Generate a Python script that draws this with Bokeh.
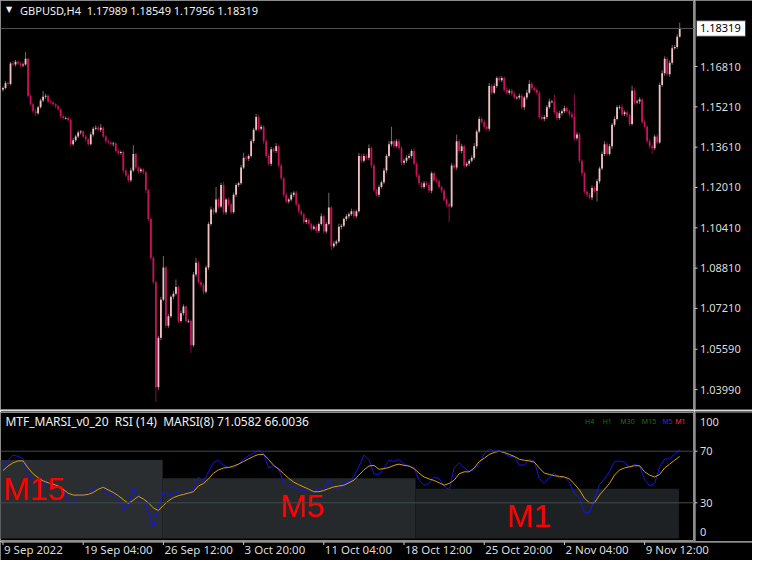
from bokeh.plotting import figure
from bokeh.layouts import column, row
from bokeh.models import Range1d, Label, ColumnDataSource, Span
from bokeh.core.properties import value
from bokeh.embed import file_html
from bokeh.resources import INLINE

# ---------------- data (GBPUSD H4) ----------------
first_open = 1.1590
close = [
    1.1596, 1.1615, 1.1612, 1.1693, 1.1689, 1.1700, 1.1693, 1.1685, 1.1689, 1.1712,
    1.1565, 1.1531, 1.1504, 1.1496, 1.1519, 1.1546, 1.1561, 1.1565, 1.1542, 1.1538,
    1.1531, 1.1523, 1.1511, 1.1484, 1.1477, 1.1477, 1.1469, 1.1373, 1.1388, 1.1403,
    1.1419, 1.1423, 1.1403, 1.1392, 1.1373, 1.1411, 1.1434, 1.1438, 1.1430, 1.1438,
    1.1403, 1.1384, 1.1380, 1.1373, 1.1376, 1.1346, 1.1338, 1.1342, 1.1268, 1.1249,
    1.1230, 1.1268, 1.1334, 1.1280, 1.1265, 1.1272, 1.1261, 1.1191, 1.1076, 1.0922,
    1.0825, 1.0409, 1.0605, 1.0756, 1.0883, 1.0652, 1.0690, 1.0767, 1.0779, 1.0806,
    1.0671, 1.0702, 1.0729, 1.0671, 1.0671, 1.0575, 1.0856, 1.0902, 1.0825, 1.0814,
    1.0787, 1.0883, 1.1056, 1.1114, 1.1103, 1.1153, 1.1126, 1.1211, 1.1103, 1.1153,
    1.1134, 1.1103, 1.1172, 1.1211, 1.1218, 1.1280, 1.1319, 1.1315, 1.1326, 1.1384,
    1.1430, 1.1481, 1.1434, 1.1442, 1.1384, 1.1326, 1.1295, 1.1353, 1.1346, 1.1365,
    1.1288, 1.1238, 1.1172, 1.1145, 1.1153, 1.1172, 1.1180, 1.1134, 1.1107, 1.1095,
    1.1064, 1.1072, 1.1056, 1.1037, 1.1045, 1.1029, 1.1056, 1.1087, 1.1026, 1.1056,
    1.1122, 1.0968, 1.0979, 1.0987, 1.1045, 1.1049, 1.1076, 1.1087, 1.1095, 1.1107,
    1.1087, 1.1107, 1.1326, 1.1307, 1.1326, 1.1319, 1.1357, 1.1288, 1.1191, 1.1172,
    1.1203, 1.1222, 1.1268, 1.1326, 1.1373, 1.1384, 1.1365, 1.1384, 1.1357, 1.1299,
    1.1307, 1.1319, 1.1326, 1.1346, 1.1295, 1.1249, 1.1218, 1.1203, 1.1218, 1.1211,
    1.1188, 1.1257, 1.1230, 1.1226, 1.1203, 1.1188, 1.1153, 1.1134, 1.1126, 1.1288,
    1.1280, 1.1384, 1.1346, 1.1365, 1.1288, 1.1295, 1.1307, 1.1319, 1.1365, 1.1423,
    1.1473, 1.1461, 1.1442, 1.1434, 1.1604, 1.1577, 1.1604, 1.1635, 1.1627, 1.1635,
    1.1588, 1.1577, 1.1585, 1.1573, 1.1558, 1.1558, 1.1565, 1.1519, 1.1558, 1.1577,
    1.1612, 1.1596, 1.1588, 1.1577, 1.1481, 1.1473, 1.1481, 1.1519, 1.1542, 1.1542,
    1.1500, 1.1477, 1.1496, 1.1504, 1.1515, 1.1504, 1.1492, 1.1481, 1.1396, 1.1411,
    1.1307, 1.1257, 1.1184, 1.1172, 1.1161, 1.1199, 1.1188, 1.1226, 1.1276, 1.1334,
    1.1373, 1.1334, 1.1365, 1.1450, 1.1473, 1.1519, 1.1519, 1.1492, 1.1500, 1.1488,
    1.1453, 1.1585, 1.1538, 1.1542, 1.1550, 1.1461, 1.1442, 1.1384, 1.1365, 1.1357,
    1.1403, 1.1380, 1.1608, 1.1654, 1.1712, 1.1650, 1.1696, 1.1754, 1.1758, 1.17989, 1.18319,
]
wick_hi_pips = [
    6, 8, 5, 6, 9, 7, 5, 6, 8, 27, 4, 6, 5, 8, 6, 7, 23, 8, 5, 6,
    7, 5, 6, 4, 8, 6, 5, 6, 9, 7, 8, 6, 5, 7, 4, 9, 8, 10, 7, 15,
    5, 6, 8, 4, 7, 5, 9, 6, 5, 8, 6, 12, 35, 5, 7, 8, 6, 5, 4, 6,
    5, 6, 8, 10, 46, 7, 9, 6, 12, 30, 6, 10, 8, 5, 7, 6, 10, 20, 8, 6,
    7, 9, 8, 10, 6, 50, 7, 9, 12, 6, 8, 5, 9, 7, 6, 10, 20, 8, 7, 9,
    8, 12, 9, 7, 6, 8, 10, 9, 7, 12, 6, 8, 5, 9, 7, 10, 6, 8, 5, 7,
    6, 9, 7, 5, 8, 10, 7, 12, 6, 8, 58, 5, 9, 7, 12, 8, 6, 9, 7, 10,
    8, 6, 12, 9, 10, 7, 15, 6, 8, 5, 9, 7, 10, 8, 12, 58, 6, 9, 10, 7,
    8, 10, 9, 7, 12, 6, 8, 5, 9, 7, 10, 8, 6, 9, 7, 5, 8, 6, 7, 10,
    8, 27, 9, 10, 6, 8, 7, 9, 12, 8, 10, 7, 9, 6, 12, 8, 10, 7, 9, 8,
    6, 9, 7, 8, 10, 6, 9, 8, 7, 12, 15, 8, 6, 9, 7, 10, 8, 9, 12, 7,
    27, 8, 9, 7, 10, 8, 6, 9, 90, 10, 8, 7, 6, 9, 8, 10, 7, 9, 8, 10,
    12, 8, 9, 7, 10, 8, 9, 12, 7, 8, 6, 20, 10, 8, 9, 7, 8, 6, 9, 7,
    8, 10, 9, 12, 10, 8, 9, 12, 8, 10, 23,
]
wick_lo_pips = [
    8, 5, 7, 6, 5, 8, 6, 9, 7, 5, 8, 6, 9, 12, 7, 5, 6, 8, 7, 5,
    6, 8, 5, 9, 7, 6, 8, 10, 6, 7, 5, 8, 6, 9, 7, 5, 8, 6, 7, 9,
    6, 8, 7, 5, 9, 6, 8, 7, 10, 6, 9, 8, 5, 7, 10, 6, 8, 12, 10, 9,
    8, 59, 12, 10, 6, 9, 8, 7, 10, 6, 8, 7, 9, 6, 8, 30, 7, 9, 6, 8,
    10, 7, 9, 8, 10, 6, 8, 7, 9, 10, 7, 8, 6, 9, 8, 7, 6, 8, 9, 7,
    8, 6, 9, 7, 10, 8, 7, 9, 6, 8, 7, 9, 10, 6, 8, 7, 9, 8, 10, 7,
    9, 8, 7, 10, 6, 9, 8, 7, 10, 8, 6, 15, 8, 9, 7, 10, 6, 8, 9, 7,
    10, 8, 6, 9, 7, 8, 10, 9, 8, 7, 9, 6, 8, 10, 7, 9, 8, 6, 7, 10,
    8, 9, 7, 10, 6, 8, 9, 7, 8, 6, 9, 10, 7, 8, 6, 9, 8, 10, 62, 7,
    8, 9, 7, 10, 8, 6, 9, 7, 8, 10, 6, 8, 9, 7, 10, 8, 6, 9, 7, 8,
    9, 7, 8, 10, 6, 9, 8, 7, 10, 8, 6, 9, 7, 8, 10, 7, 9, 8, 6, 7,
    8, 10, 7, 9, 8, 6, 10, 7, 9, 8, 10, 12, 8, 9, 7, 10, 8, 42, 9, 7,
    8, 9, 7, 10, 8, 6, 9, 8, 7, 10, 9, 6, 8, 7, 10, 9, 8, 7, 10, 23,
    8, 9, 6, 8, 10, 7, 9, 8, 6, 7, 3,
]
# RSI(14) and its MA(8), read every second bar
rsi14 = [
    57, 63, 67, 66, 64, 52, 45, 47, 46, 43.5,
    42.3, 42, 39.5, 31.5, 29, 36, 36, 37, 42, 42,
    40, 37, 36, 33, 25, 28, 42, 34, 30, 23,
    11, 27, 39, 36, 37, 38.6, 38.6, 38.6, 40, 50,
    46, 54, 61.5, 63, 59, 57.4, 57, 60, 63.7, 66.7,
    68.5, 71, 68, 57, 58.7, 56.5, 45, 42.3, 42, 40,
    39.8, 38.6, 38.6, 41, 40, 48.6, 42, 40, 45.5, 46,
    50.5, 58, 67, 63.5, 52.4, 52, 57, 63, 62, 63.5,
    60, 58.5, 57, 47.5, 43.6, 45, 50, 48.5, 43, 40,
    57, 61.2, 57, 54.5, 55.5, 60, 68, 71.5, 70, 70.5,
    68.5, 66, 66, 59, 59.5, 63.7, 62, 48.6, 45, 50,
    53, 49, 50, 46, 37, 34, 22.2, 22.2, 33, 44,
    48.5, 54.5, 62, 62.5, 61.5, 57, 60, 58.5, 48, 43,
    45, 58, 64, 64, 68, 71.06,
]
marsi8 = [
    55, 58.5, 61, 62.5, 62.5, 57, 52.5, 49.5, 47, 45.5,
    44.5, 43, 40.5, 37.5, 36, 36, 36, 36.5, 38, 40.5,
    42, 40, 38, 35.5, 32.5, 29.5, 32, 35, 33, 30,
    26, 24, 28, 31.5, 34, 35.5, 36.5, 37.5, 38.6, 43,
    45, 48.5, 53, 55.5, 57, 57.4, 58.5, 60, 62, 64,
    66, 67.5, 67.5, 63.5, 59, 56, 52.5, 49, 46, 44,
    42.3, 40.5, 38.6, 38.6, 39.5, 41, 42.3, 43, 43.6, 45.5,
    47.5, 51.5, 55.5, 58.5, 59, 56, 56.5, 57.4, 59, 60,
    59, 58.5, 56.5, 53, 50, 48.5, 47.3, 45.5, 43.6, 45,
    47.5, 52.5, 54, 54, 57, 62, 64.5, 67.5, 69, 70,
    69, 67.5, 66, 63.7, 63, 62.5, 61.5, 57, 53, 52,
    51, 50.5, 50, 48.5, 44.5, 40, 33.5, 30, 30, 36,
    40.5, 45, 51.5, 55.5, 57, 58, 58.7, 58.7, 54, 51.5,
    50, 52, 57, 60, 63, 66.0,
]
price_ticks = [1.03990, 1.05590, 1.07210, 1.08810, 1.10410, 1.12010, 1.13610, 1.15210, 1.16810]
bid = 1.18319
title_text = "GBPUSD,H4\u00a0\u00a01.17989 1.18549 1.17956 1.18319"
time_tick_bars = [0, 32, 64, 96, 128, 160, 192, 224, 256]
time_tick_labels = ["9 Sep 2022", "19 Sep 04:00", "26 Sep 12:00", "3 Oct 20:00", "11 Oct 04:00",
                    "18 Oct 12:00", "25 Oct 20:00", "2 Nov 04:00", "9 Nov 12:00"]
rsi_levels = [70, 30]
rsi_label_pos = [93, 70, 30, 7]
rsi_label_text = ["100", "70", "30", "0"]
box_names = ["M15", "M5", "M1"]
box_left = [-1.5, 63.7, 164.6]
box_right = [63.7, 164.6, 269.7]
box_top = [63.2, 49.0, 40.8]
box_bottom = [2.3, 2.3, 2.3]
sub_header = "MTF_MARSI_v0_20\u00a0\u00a0RSI (14)\u00a0\u00a0MARSI(8) 71.0582 66.0036"
tf_names = ["H4", "H1", "M30", "M15"]

# ---------------- layout constants ----------------
W = 752
AX_R = 58
FW = W - AX_R          # frame width of the chart windows
H1 = 410               # main window (frame 409 + 1px separator)
H2 = 131               # RSI window (2px separator + frame 129)
H3 = 19                # time scale strip
SX, SY = 752 / 768, 560 / 576
FONT = "Noto Sans"
TXT = "#dcdcdc"
AXC = "#c8c8c8"

n = len(close)
opens = [first_open] + close[:-1]
pip = 0.0001
xs, tops, bots, his, los, bcol, wcol = [], [], [], [], [], [], []
for i in range(n):
    o, c = opens[i], close[i]
    t, b = max(o, c), min(o, c)
    if t - b < 0.0003:
        b = t - 0.0003
    xs.append(i)
    tops.append(t)
    bots.append(b)
    his.append(max(o, c) + wick_hi_pips[i] * pip)
    los.append(min(o, c) - wick_lo_pips[i] * pip)
    up = c >= o
    bcol.append("#f3c3c3" if up else "#c8125a")
    wcol.append("#776868" if up else "#8a0e42")
csrc = ColumnDataSource(dict(x=xs, top=tops, bottom=bots, hi=his, lo=los, bc=bcol, wc=wcol))

x_range = Range1d(-1.0, 275.9)
dpp = (x_range.end - x_range.start) / FW
y1 = Range1d(1.0320, 1.1943)
y2 = Range1d(0, 100)


def base_fig(width, height, xr, yr, top=0, bottom=0, border="black"):
    f = figure(width=width, height=height, x_range=xr, y_range=yr, output_backend="svg",
               toolbar_location=None, x_axis_location=None, y_axis_location=None,
               background_fill_color="black", border_fill_color=border,
               min_border_left=0, min_border_right=0, min_border_top=top, min_border_bottom=bottom)
    f.grid.visible = False
    f.outline_line_color = None
    return f


# ---------------- main price window ----------------
p1 = base_fig(FW, H1, x_range, y1, bottom=1, border="#6c6c6c")
p1.outline_line_color = "#8a8a8a"
p1.add_layout(Span(location=bid, dimension="width", line_color="#505050", line_width=1))
p1.segment(x0="x", y0="lo", x1="x", y1="hi", color="wc", line_width=1, source=csrc)
p1.vbar(x="x", top="top", bottom="bottom", width=0.72, fill_color="bc", line_color=None, source=csrc)
p1.add_layout(Label(x=19.6, y=(H1 - 1) - 10 * SY, x_units="screen", y_units="screen",
                    text=title_text, text_color="#f0f0f0", text_font=FONT, text_font_size="11px",
                    text_baseline="middle"))
p1.add_layout(Label(x=5.5, y=(H1 - 1) - 9.5 * SY, x_units="screen", y_units="screen",
                    text="\u25bc", text_color="#f0f0f0", text_font="DejaVu Sans",
                    text_font_size="8px", text_baseline="middle"))

# price scale strip (shares the price scale of the main window)
p1r = base_fig(AX_R, H1, Range1d(0, AX_R), y1, bottom=1, border="#6c6c6c")
p1r.add_layout(Span(location=0.5, dimension="height", line_color=AXC, line_width=1))
p1r.segment(x0=0, x1=3, y0=price_ticks, y1=price_ticks, line_color=AXC, line_width=1)
p1r.text(x=5.5, y=price_ticks, text=[f"{v:.5f}" for v in price_ticks], text_color=TXT,
         text_font=value(FONT), text_font_size="11px", text_baseline="middle", text_align="left")
bid_half = 7.8 * (y1.end - y1.start) / (H1 - 1)
p1r.quad(left=2, right=51, top=bid + bid_half, bottom=bid - bid_half,
         fill_color="white", line_color="#404040", line_width=1)
p1r.text(x=5.5, y=[bid], text=[f"{bid:.5f}"], text_color="black",
         text_font=value(FONT), text_font_size="11px", text_baseline="middle", text_align="left")

# ---------------- RSI sub-window ----------------
p2 = base_fig(FW, H2, x_range, y2, top=2, border="#6c6c6c")
p2.outline_line_color = "#8a8a8a"
p2.quad(left=box_left, right=box_right, top=box_top, bottom=box_bottom,
        fill_color=["#2b2e30", "#26292b", "#1e2123"], line_color=None)
for lv in rsi_levels:
    p2.add_layout(Span(location=lv, dimension="width", line_color="#3f4a4a", line_width=1))

rsi_bars = list(range(0, n, 2))
p2.line(rsi_bars, rsi14, line_color="#1414f0", line_width=1)
p2.line(rsi_bars, marsi8, line_color="#d4a017", line_width=1)

p2.text(x=[0.0, 110.5, 201.0], y=[40.5, 27.6, 20.0], text=box_names, text_color="#ff0000",
        text_font=value("Liberation Sans"), text_font_size="32px", text_baseline="middle",
        text_align="left")

p2.add_layout(Label(x=4.9, y=93, x_units="screen", text=sub_header, text_color="#f0f0f0",
                    text_font=FONT, text_font_size="12px", text_baseline="middle"))
for name, px in zip(tf_names, [597, 615, 633, 655]):
    p2.add_layout(Label(x=px * SX, y=93, x_units="screen", text=name, text_color="#127a12",
                        text_font=FONT, text_font_size="7px", text_baseline="middle"))
p2.add_layout(Label(x=676 * SX, y=93, x_units="screen", text="M5", text_color="#2a2aff",
                    text_font=FONT, text_font_size="7px", text_baseline="middle"))
p2.add_layout(Label(x=689 * SX, y=93, x_units="screen", text="M1", text_color="#ff3030",
                    text_font=FONT, text_font_size="7px", text_baseline="middle"))

# RSI scale strip
p2r = base_fig(AX_R, H2, Range1d(0, AX_R), y2, top=2, border="#6c6c6c")
p2r.add_layout(Span(location=0.5, dimension="height", line_color=AXC, line_width=1))
p2r.segment(x0=0, x1=3, y0=rsi_levels, y1=rsi_levels, line_color=AXC, line_width=1)
p2r.text(x=5.5, y=rsi_label_pos, text=rsi_label_text, text_color=TXT,
         text_font=value(FONT), text_font_size="11px", text_baseline="middle", text_align="left")

# ---------------- time scale strip ----------------
p3 = base_fig(W, H3, Range1d(x_range.start, x_range.start + W * dpp), Range1d(0, H3))
p3.add_layout(Span(location=H3 - 0.5, dimension="width", line_color=AXC, line_width=1))
p3.segment(x0=time_tick_bars, x1=time_tick_bars, y0=H3, y1=H3 - 3.5, line_color=AXC, line_width=1)
p3.text(x=[b + 0.4 for b in time_tick_bars], y=H3 - 8.3, text=time_tick_labels, text_color=TXT,
        text_font=value(FONT), text_font_size="11.5px", text_baseline="middle", text_align="left")

layout = column(row(p1, p1r, spacing=0), row(p2, p2r, spacing=0), p3, spacing=0)
open("out.html", "w").write(file_html(layout, INLINE))
